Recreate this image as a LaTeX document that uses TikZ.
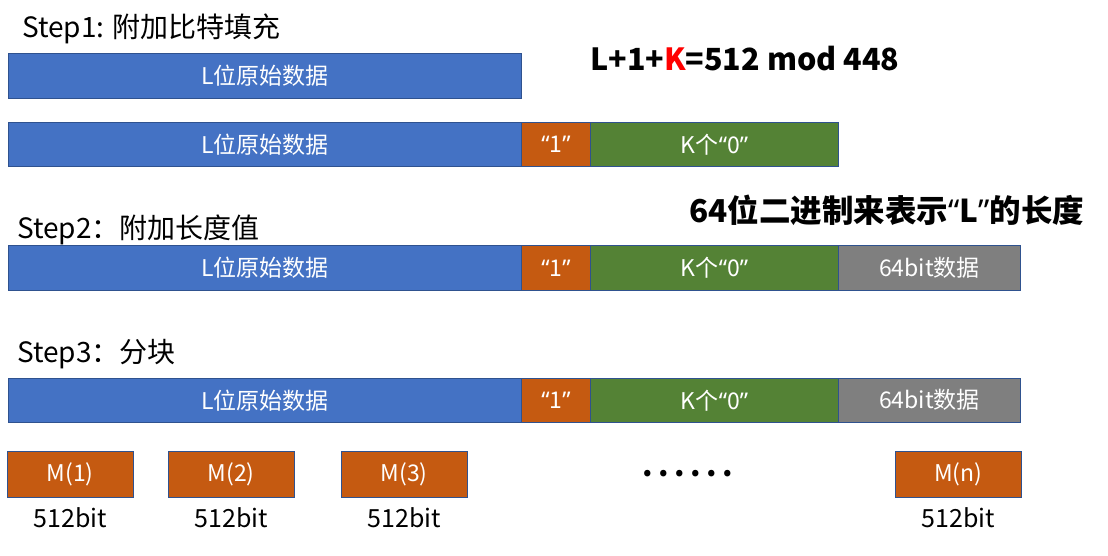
\documentclass[tikz,border=0pt]{standalone}
\usepackage{fontspec}
\setmainfont{Noto Sans CJK SC}
\newfontfamily\qfont{Noto Sans}
\definecolor{bluefill}{HTML}{4472C4}
\definecolor{orangefill}{HTML}{C55A11}
\definecolor{greenfill}{HTML}{548235}
\definecolor{grayfill}{HTML}{7F7F7F}
\definecolor{edgeblue}{HTML}{2F528F}
\newcommand{\myoq}{{\qfont “}}
\newcommand{\mycq}{{\qfont ”}}
\begin{document}
\begin{tikzpicture}[x=1pt,y=-1pt,
  cell/.style={draw=edgeblue, line width=1pt, text=white, inner sep=0pt, outer sep=0pt,
    anchor=north west, font=\fontsize{23}{26}\selectfont},
  datacell/.style={cell, fill=bluefill, minimum width=513.5pt},
  onecell/.style={cell, fill=orangefill, minimum width=69pt},
  zerocell/.style={cell, fill=greenfill, minimum width=248pt},
  lencell/.style={cell, fill=grayfill, minimum width=182pt},
  blockcell/.style={cell, fill=orangefill, minimum width=125.5pt, minimum height=45.5pt},
  steptitle/.style={anchor=base west, inner sep=0pt, font=\fontsize{28}{32}\selectfont},
  boldnote/.style={anchor=base west, inner sep=0pt, font=\fontsize{30.5}{34}\selectfont\bfseries},
  bitlabel/.style={anchor=base, inner sep=0pt, font=\fontsize{25}{28}\selectfont},
]
\useasboundingbox (0,0) rectangle (1108,555);

% Step 1
\node[steptitle] (s1) at (22,37) {Step1: 附加比特填充};
\node[datacell, minimum height=45.5pt] (r1a) at (8,53) {L位原始数据};
\node[boldnote] (formula) at (590,70) {L+1+\textcolor{red}{K}=512 mod 448};

\node[datacell, minimum height=44.5pt] (r2a) at (8,122) {L位原始数据};
\node[onecell, minimum height=44.5pt] (r2b) at (r2a.north east) {\myoq 1\mycq};
\node[zerocell, minimum height=44.5pt] (r2c) at (r2b.north east) {K个\myoq 0\mycq};

% Step 2
\node[boldnote, font=\fontsize{31.5}{34}\selectfont\bfseries] (lennote) at (689,222) {64位二进制来表示{\qfont\bfseries “}L{\qfont\bfseries ”}的长度};
\node[steptitle] (s2) at (17,238) {Step2：附加长度值};
\node[datacell, minimum height=45pt] (r3a) at (8,245.5) {L位原始数据};
\node[onecell, minimum height=45pt] (r3b) at (r3a.north east) {\myoq 1\mycq};
\node[zerocell, minimum height=45pt] (r3c) at (r3b.north east) {K个\myoq 0\mycq};
\node[lencell, minimum height=45pt] (r3d) at (r3c.north east) {64bit数据};

% Step 3
\node[steptitle] (s3) at (17,362) {Step3：分块};
\node[datacell, minimum height=44.5pt] (r4a) at (8,378) {L位原始数据};
\node[onecell, minimum height=44.5pt] (r4b) at (r4a.north east) {\myoq 1\mycq};
\node[zerocell, minimum height=44.5pt] (r4c) at (r4b.north east) {K个\myoq 0\mycq};
\node[lencell, minimum height=44.5pt] (r4d) at (r4c.north east) {64bit数据};

\node[blockcell] (m1) at (7.5,451.5) {M(1)};
\node[blockcell] (m2) at (168.5,451.5) {M(2)};
\node[blockcell] (m3) at (341.5,451.5) {M(3)};
\node[blockcell] (mn) at (895.5,451.5) {M(n)};

\node[bitlabel] (b1) at ([yshift=-30.5pt]m1.south) {512bit};
\node[bitlabel] (b2) at ([yshift=-30.5pt]m2.south) {512bit};
\node[bitlabel] (b3) at ([yshift=-30.5pt]m3.south) {512bit};
\node[bitlabel] (bn) at ([yshift=-30.5pt]mn.south) {512bit};

\node[anchor=base, inner sep=0pt, font=\fontsize{30}{34}\selectfont\bfseries] (dots) at (688,476)
  {.\hspace{5.5pt}.\hspace{5.5pt}.\hspace{5.5pt}.\hspace{5.5pt}.\hspace{5.5pt}.};
\end{tikzpicture}
\end{document}
